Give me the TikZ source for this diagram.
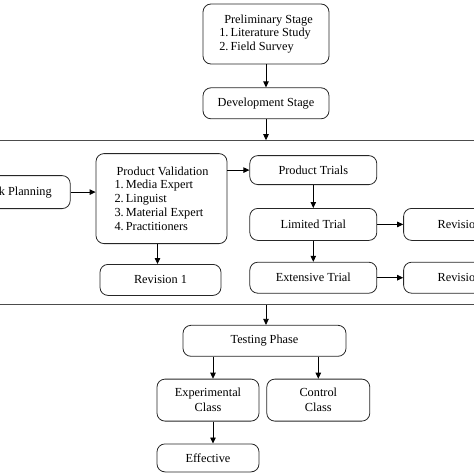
\documentclass[tikz,border=0pt]{standalone}
\usepackage{fontspec}
\setmainfont{Liberation Serif}
\usetikzlibrary{arrows.meta,positioning}

\begin{document}
\begin{tikzpicture}[
  x=1pt, y=1pt,
  font=\fontsize{12.3}{13.8}\selectfont,
  line width=0.8pt,
  box/.style={draw=black!85, rounded corners=8pt, inner sep=2pt, align=center, minimum height=31pt},
  listbox/.style={box, align=left},
  trialbox/.style={box, minimum width=127pt},
  revbox/.style={box, minimum width=121pt},
  classbox/.style={box, minimum width=102pt, minimum height=42pt},
  framebox/.style={draw=black!70, line width=0.7pt, inner sep=0pt, minimum width=560pt, minimum height=164pt},
  >={Triangle[length=6pt,width=5.5pt]},
  every edge/.style={draw, ->},
]
\useasboundingbox (0,0) rectangle (474,-474);
\clip (0,0) rectangle (474,-474);

\node[listbox, minimum width=126pt, minimum height=60pt] (prelim) at (266,-34)
  {\hspace*{5pt}Preliminary Stage\\1.\,Literature Study\\2.\,Field Survey};
\node[box, minimum width=126pt, below=23pt of prelim] (dev) {Development Stage};
\node[framebox, below=21pt of dev] (frame) {};

\node[listbox, minimum width=131pt, minimum height=90pt, below=13pt of frame.north, xshift=-104.5pt] (pv)
  {\hspace*{2pt}Product Validation\\1.\,Media Expert\\2.\,Linguist\\3.\,Material Expert\\4.\,Practitioners};
\node[box, minimum width=130pt, minimum height=33pt, left=25pt of pv, yshift=6.5pt] (plan) {Textbook Planning};
\node[revbox, below=20pt of pv, xshift=-1pt] (rev1) {Revision 1};

\node[trialbox, minimum height=29pt, right=22pt of pv.north east, anchor=north west, yshift=-2pt] (pt) {Product Trials};
\node[trialbox, minimum height=32pt, below=23pt of pt] (lim) {Limited Trial};
\node[trialbox, below=21pt of lim] (ext) {Extensive Trial};
\node[revbox, minimum height=32pt, right=26pt of lim] (rev2) {Revision 2};
\node[revbox, right=26pt of ext] (rev3) {Revision 3};

\node[box, minimum width=163pt, below=20pt of frame.south, xshift=-1.5pt] (test) {Testing Phase};
\node[classbox, below=22pt of test, xshift=-56.5pt] (exp) {Experimental\\[1pt]Class};
\node[classbox, minimum width=103pt, right=7pt of exp] (ctrl) {Control\\[1pt]Class};
\node[classbox, minimum height=28pt, below=22pt of exp] (eff) {Effective};

% arrows
\draw[->] (prelim) -- (dev);
\draw[->] (dev) -- (dev.south |- frame.north);
\draw[->] (plan.east) -- (plan.east -| pv.west);
\draw[->] (pv.east |- pt.west) -- (pt.west);
\draw[->] ([xshift=-3pt]rev1.north |- pv.south) -- ([xshift=-3pt]rev1.north);
\draw (pt) edge (lim) (lim) edge (ext);
\foreach \a/\b in {lim/rev2,ext/rev3} { \draw (\a) edge (\b); }
\draw[->] (frame.south) -- (frame.south |- test.north);
\draw[->] ([xshift=5pt]exp.north |- test.south) -- ([xshift=5pt]exp.north);
\draw[->] (ctrl.north |- test.south) -- (ctrl.north);
\draw[->] ([xshift=5pt]exp.south) -- ([xshift=5pt]eff.north);
\end{tikzpicture}
\end{document}
